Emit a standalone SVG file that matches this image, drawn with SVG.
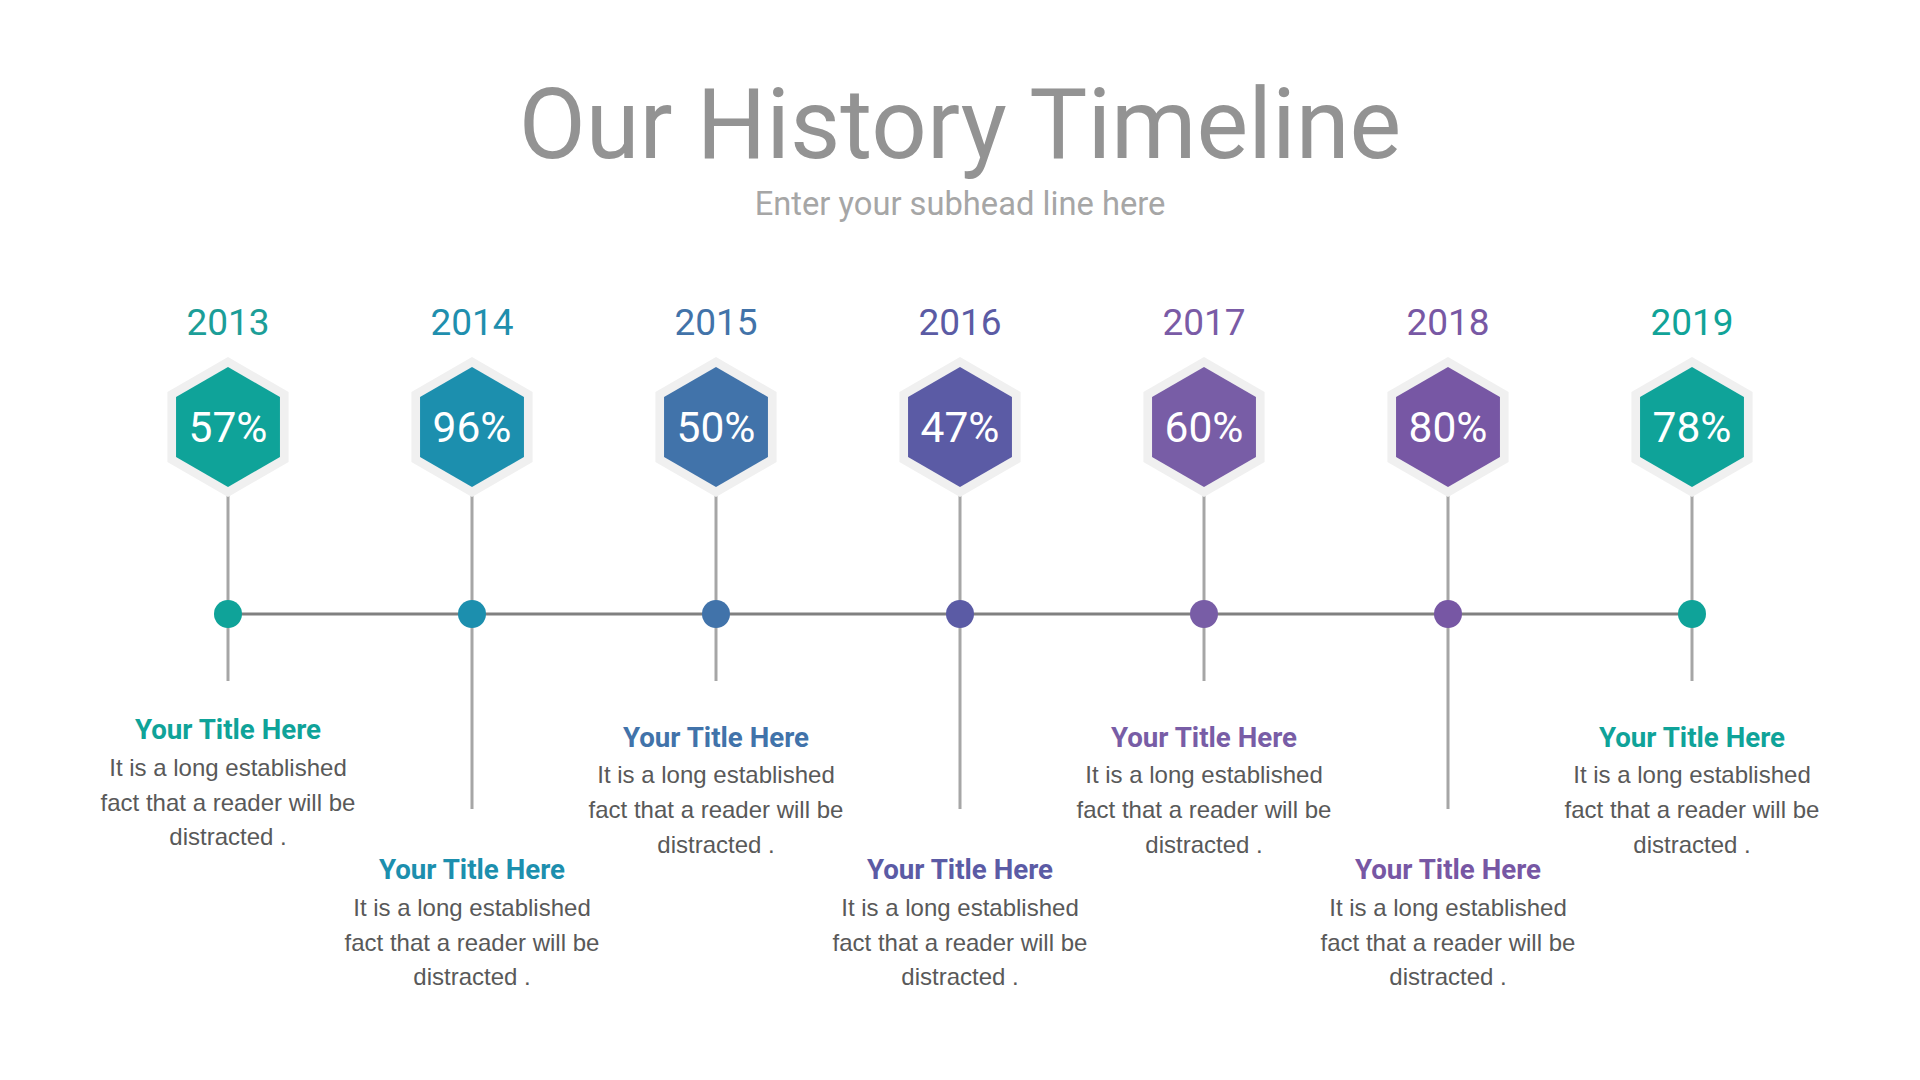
<svg xmlns="http://www.w3.org/2000/svg" xmlns:xlink="http://www.w3.org/1999/xlink" width="1920" height="1080" viewBox="0 0 1920 1080">
<style>
.title{font-family:Roboto,"Liberation Sans",sans-serif;font-size:97.5px;fill:#939393;text-anchor:middle}
.sub{font-family:Roboto,"Liberation Sans",sans-serif;font-size:32.7px;fill:#a6a6a6;text-anchor:middle}
.year{font-family:Roboto,"Liberation Sans",sans-serif;font-size:37px;text-anchor:middle}
.pct{font-family:Roboto,"Liberation Sans",sans-serif;font-size:42.5px;fill:#ffffff;text-anchor:middle}
.ttl{font-family:Roboto,"Liberation Sans",sans-serif;font-size:27.7px;font-weight:bold;text-anchor:middle}
.body{font-family:"Liberation Sans",Arial,sans-serif;font-size:24px;fill:#595959;text-anchor:middle}
.vline{stroke:#a6a6a6;stroke-width:3}
.hline{stroke:#808080;stroke-width:3}
.outer{fill:#f0f0f0}
</style>
<defs>
<polygon id="hexO" points="0,-70 60.62,-35 60.62,35 0,70 -60.62,35 -60.62,-35"/>
<polygon id="hexI" points="0,-60 51.96,-30 51.96,30 0,60 -51.96,30 -51.96,-30"/>
</defs>
<rect width="1920" height="1080" fill="#ffffff"/>
<text class="title" x="960" y="158">Our History Timeline</text>
<text class="sub" x="960" y="215">Enter your subhead line here</text>

<g id="connectors">
<line class="hline" x1="228" y1="614" x2="1692" y2="614"/>
<line class="vline" x1="228" y1="487" x2="228" y2="681"/>
<line class="vline" x1="472" y1="487" x2="472" y2="809"/>
<line class="vline" x1="716" y1="487" x2="716" y2="681"/>
<line class="vline" x1="960" y1="487" x2="960" y2="809"/>
<line class="vline" x1="1204" y1="487" x2="1204" y2="681"/>
<line class="vline" x1="1448" y1="487" x2="1448" y2="809"/>
<line class="vline" x1="1692" y1="487" x2="1692" y2="681"/>
</g>

<g id="node-2013">
<text class="year" x="228" y="335" fill="#1c9e98">2013</text>
<use href="#hexO" class="outer" x="228" y="427"/>
<use href="#hexI" x="228" y="427" fill="#0fa399"/>
<text class="pct" x="228" y="442">57%</text>
<circle cx="228" cy="614" r="14" fill="#0fa399"/>
<text class="ttl" x="228" y="739" fill="#0fa399">Your Title Here</text>
<text class="body" x="228" y="776">It is a long established</text>
<text class="body" x="228" y="811">fact that a reader will be</text>
<text class="body" x="228" y="845">distracted .</text>
</g>

<g id="node-2014">
<text class="year" x="472" y="335" fill="#1f8fae">2014</text>
<use href="#hexO" class="outer" x="472" y="427"/>
<use href="#hexI" x="472" y="427" fill="#1c8fae"/>
<text class="pct" x="472" y="442">96%</text>
<circle cx="472" cy="614" r="14" fill="#1c8fae"/>
<text class="ttl" x="472" y="879" fill="#1c8fae">Your Title Here</text>
<text class="body" x="472" y="916">It is a long established</text>
<text class="body" x="472" y="951">fact that a reader will be</text>
<text class="body" x="472" y="985">distracted .</text>
</g>

<g id="node-2015">
<text class="year" x="716" y="335" fill="#4273a9">2015</text>
<use href="#hexO" class="outer" x="716" y="427"/>
<use href="#hexI" x="716" y="427" fill="#4173aa"/>
<text class="pct" x="716" y="442">50%</text>
<circle cx="716" cy="614" r="14" fill="#4173aa"/>
<text class="ttl" x="716" y="747" fill="#4173aa">Your Title Here</text>
<text class="body" x="716" y="783">It is a long established</text>
<text class="body" x="716" y="818">fact that a reader will be</text>
<text class="body" x="716" y="853">distracted .</text>
</g>

<g id="node-2016">
<text class="year" x="960" y="335" fill="#5b5ba4">2016</text>
<use href="#hexO" class="outer" x="960" y="427"/>
<use href="#hexI" x="960" y="427" fill="#5b5ba5"/>
<text class="pct" x="960" y="442">47%</text>
<circle cx="960" cy="614" r="14" fill="#5b5ba5"/>
<text class="ttl" x="960" y="879" fill="#5b5ba5">Your Title Here</text>
<text class="body" x="960" y="916">It is a long established</text>
<text class="body" x="960" y="951">fact that a reader will be</text>
<text class="body" x="960" y="985">distracted .</text>
</g>

<g id="node-2017">
<text class="year" x="1204" y="335" fill="#7a5ba6">2017</text>
<use href="#hexO" class="outer" x="1204" y="427"/>
<use href="#hexI" x="1204" y="427" fill="#785da6"/>
<text class="pct" x="1204" y="442">60%</text>
<circle cx="1204" cy="614" r="14" fill="#785da6"/>
<text class="ttl" x="1204" y="747" fill="#785da6">Your Title Here</text>
<text class="body" x="1204" y="783">It is a long established</text>
<text class="body" x="1204" y="818">fact that a reader will be</text>
<text class="body" x="1204" y="853">distracted .</text>
</g>

<g id="node-2018">
<text class="year" x="1448" y="335" fill="#7858a4">2018</text>
<use href="#hexO" class="outer" x="1448" y="427"/>
<use href="#hexI" x="1448" y="427" fill="#7757a4"/>
<text class="pct" x="1448" y="442">80%</text>
<circle cx="1448" cy="614" r="14" fill="#7757a4"/>
<text class="ttl" x="1448" y="879" fill="#7757a4">Your Title Here</text>
<text class="body" x="1448" y="916">It is a long established</text>
<text class="body" x="1448" y="951">fact that a reader will be</text>
<text class="body" x="1448" y="985">distracted .</text>
</g>

<g id="node-2019">
<text class="year" x="1692" y="335" fill="#11a398">2019</text>
<use href="#hexO" class="outer" x="1692" y="427"/>
<use href="#hexI" x="1692" y="427" fill="#0fa399"/>
<text class="pct" x="1692" y="442">78%</text>
<circle cx="1692" cy="614" r="14" fill="#0fa399"/>
<text class="ttl" x="1692" y="747" fill="#0fa399">Your Title Here</text>
<text class="body" x="1692" y="783">It is a long established</text>
<text class="body" x="1692" y="818">fact that a reader will be</text>
<text class="body" x="1692" y="853">distracted .</text>
</g>
</svg>
